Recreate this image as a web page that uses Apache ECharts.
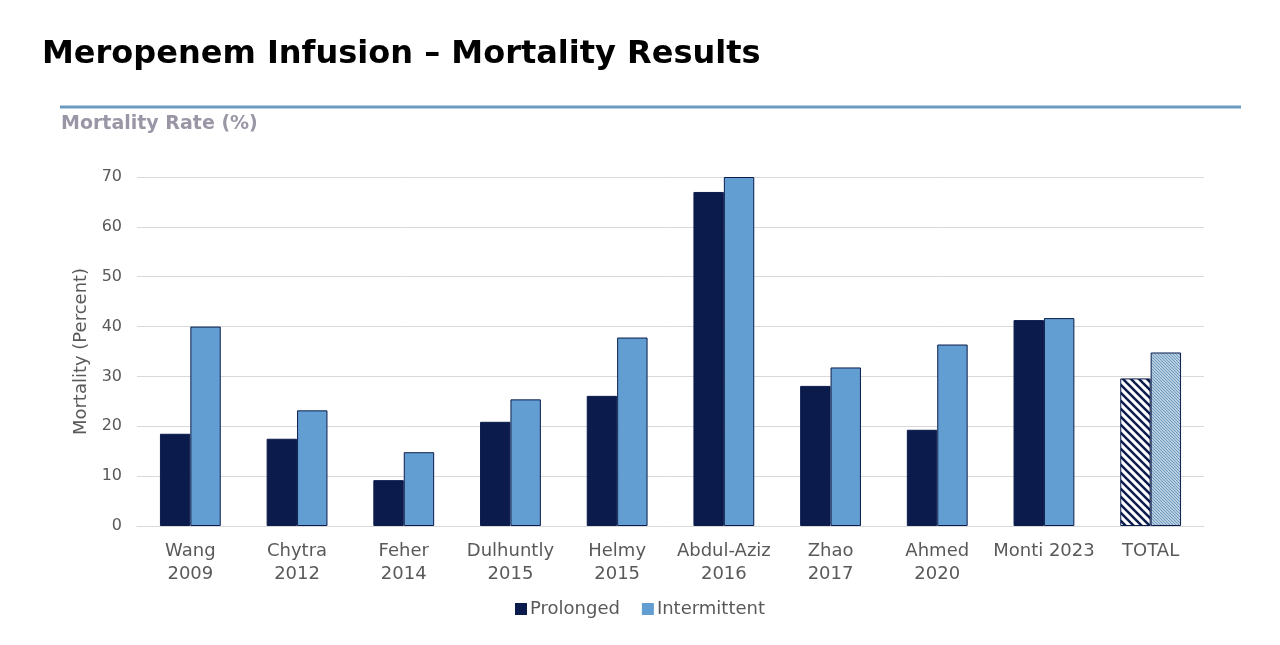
<!DOCTYPE html>
<html>
<head>
<meta charset="utf-8">
<script src="https://cdn.jsdelivr.net/npm/echarts@6/dist/echarts.min.js"></script>
<style>
html,body{margin:0;padding:0;background:#fff;}
#chart{width:1280px;height:645px;}
</style>
</head>
<body>
<div id="chart"></div>
<script>
var categories = ['Wang\n2009','Chytra\n2012','Feher\n2014','Dulhuntly\n2015','Helmy\n2015','Abdul-Aziz\n2016','Zhao\n2017','Ahmed\n2020','Monti 2023','TOTAL'];
var prolonged = [18.5, 17.5, 9.2, 20.9, 26.1, 67.0, 28.1, 19.3, 41.3, 29.6];
var intermittent = [40.0, 23.2, 14.8, 25.4, 37.8, 70.0, 31.8, 36.4, 41.7, 34.8];
var yTicks = [0, 10, 20, 30, 40, 50, 60, 70];

function stripes(size, width, color) {
  var c = document.createElement('canvas');
  c.width = size; c.height = size;
  var ctx = c.getContext('2d');
  ctx.fillStyle = '#ffffff';
  ctx.fillRect(0, 0, size, size);
  ctx.strokeStyle = color;
  ctx.lineWidth = width;
  [-size, 0, size].forEach(function (o) {
    ctx.beginPath();
    ctx.moveTo(o - 1, -1);
    ctx.lineTo(o + size + 1, size + 1);
    ctx.stroke();
  });
  return { image: c, repeat: 'repeat' };
}

var NAVY = '#0b1c4c';
var BLUE = '#629ed2';
var totalIdx = categories.length - 1;

function build(vals, base, pattern) {
  return vals.map(function (v, i) {
    if (i === totalIdx) {
      return { value: v, itemStyle: { color: pattern, borderColor: NAVY, borderWidth: 1 } };
    }
    return { value: v, itemStyle: { color: base, borderColor: NAVY, borderWidth: 1 } };
  });
}

var chart = echarts.init(document.getElementById('chart'));
chart.setOption({
  animation: false,
  backgroundColor: '#ffffff',
  textStyle: { fontFamily: 'DejaVu Sans' },
  title: {
    text: 'Meropenem Infusion \u2013 Mortality Results',
    left: 37, top: 34,
    textStyle: { fontFamily: 'DejaVu Sans', fontWeight: 'bold', fontSize: 32, color: '#000000' }
  },
  graphic: [
    { type: 'line', shape: { x1: 60, y1: 107, x2: 1241, y2: 107 }, style: { stroke: '#6b9bc1', lineWidth: 3 } },
    { type: 'text', left: 61, top: 115, style: { text: 'Mortality Rate (%)', font: 'bold 19px "DejaVu Sans"', fill: '#9b96a6' } }
  ],
  legend: {
    bottom: 22, left: 'center',
    itemWidth: 12, itemHeight: 12, itemGap: 22,
    icon: 'rect',
    textStyle: { fontSize: 18, color: '#595959', padding: [0, 0, 0, -2] },
    data: ['Prolonged', 'Intermittent']
  },
  grid: { left: 137, right: 76, top: 177, bottom: 119 },
  xAxis: {
    type: 'category',
    data: categories,
    axisLine: { show: true, lineStyle: { color: '#d9d9d9' } },
    axisTick: { show: false },
    axisLabel: { fontSize: 18, color: '#595959', lineHeight: 23, margin: 14, interval: 0 }
  },
  yAxis: {
    type: 'value', min: yTicks[0], max: yTicks[yTicks.length - 1], interval: 10,
    name: 'Mortality (Percent)', nameLocation: 'middle', nameGap: 38,
    nameTextStyle: { fontSize: 18, color: '#595959' },
    axisLine: { show: false }, axisTick: { show: false },
    axisLabel: { fontSize: 16, color: '#595959', margin: 15 },
    splitLine: { lineStyle: { color: '#d9d9d9' } }
  },
  series: [
    { name: 'Prolonged', type: 'bar', barGap: '0%', barCategoryGap: '43%',
      itemStyle: { color: NAVY, borderColor: NAVY },
      data: build(prolonged, NAVY, stripes(8, 2.5, NAVY)) },
    { name: 'Intermittent', type: 'bar', barGap: '0%', barCategoryGap: '43%',
      itemStyle: { color: BLUE, borderColor: NAVY },
      data: build(intermittent, BLUE, stripes(3, 1.4, '#6f9cc0')) }
  ]
});
</script>
</body>
</html>
